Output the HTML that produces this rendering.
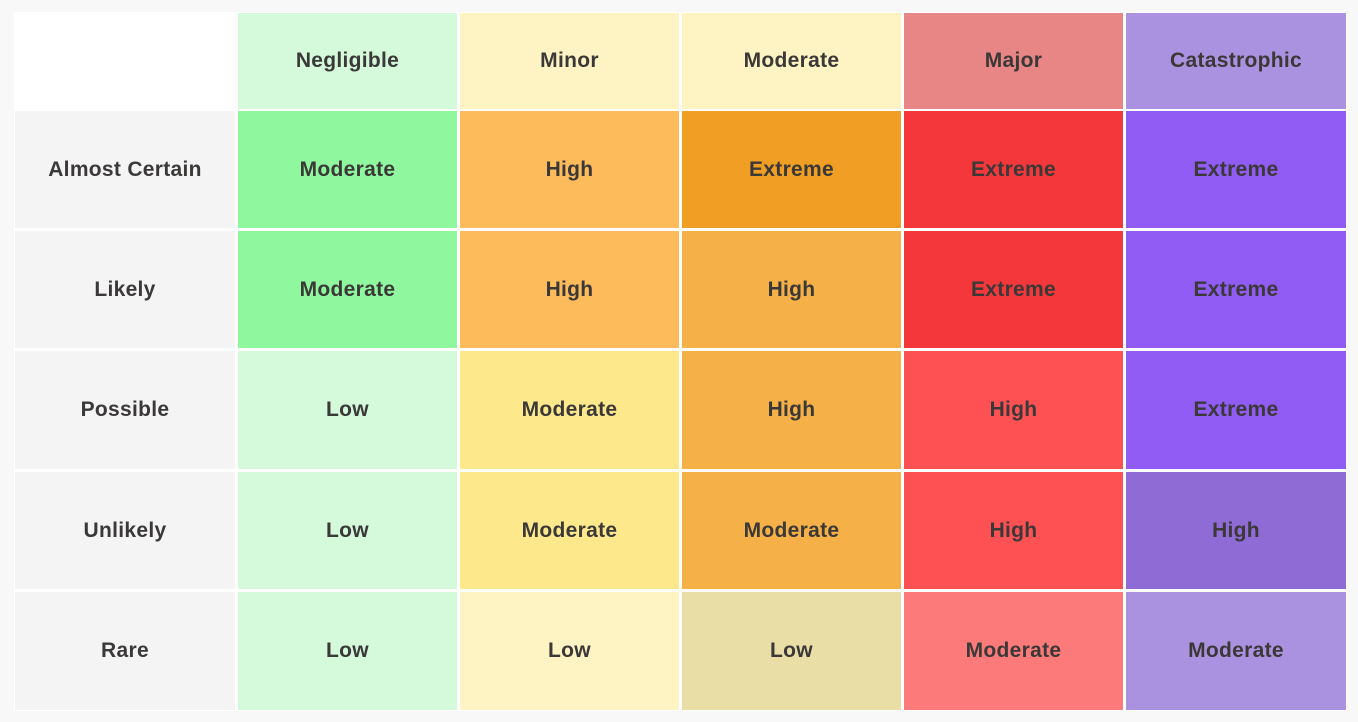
<!DOCTYPE html>
<html><head><style>
body{margin:0;width:1358px;height:722px;background:#f8f8f8;position:relative;overflow:hidden;font-family:"Liberation Sans Narrow","Liberation Sans",sans-serif;}
.c{position:absolute;display:flex;align-items:center;justify-content:center;color:#3b3838;font-size:21px;font-weight:bold;letter-spacing:0.3px;}
#bk{position:absolute;left:14px;top:12px;width:1333px;height:699px;background:#fff;}
</style></head><body>
<div id="bk"></div>
<div id="g"></div>
<script>
var xs=[15,238,460,682,904,1126],ws=[220,219,219,219,219,220];
var ys=[13,111,231,351,472,592],hs=[96,117,117,118,117,118];
var data=[
[["","#fff"],["Negligible","#d4fadb"],["Minor","#fef3c2"],["Moderate","#fef3c2"],["Major","#e88585"],["Catastrophic","#ab92e0"]],
[["Almost Certain","#f4f4f4"],["Moderate","#8ff89f"],["High","#fdbb5b"],["Extreme","#f09e24"],["Extreme","#f4373a"],["Extreme","#905cf3"]],
[["Likely","#f4f4f4"],["Moderate","#8ff89f"],["High","#fdbb5b"],["High","#f5b147"],["Extreme","#f4373a"],["Extreme","#905cf3"]],
[["Possible","#f4f4f4"],["Low","#d4fadb"],["Moderate","#fde98c"],["High","#f5b147"],["High","#fe5154"],["Extreme","#905cf3"]],
[["Unlikely","#f4f4f4"],["Low","#d4fadb"],["Moderate","#fde98c"],["Moderate","#f5b147"],["High","#fe5154"],["High","#8f6bd6"]],
[["Rare","#f4f4f4"],["Low","#d4fadb"],["Low","#fef3c2"],["Low","#e8dea6"],["Moderate","#fd7a7a"],["Moderate","#ab92e0"]]];
var h="";
for(var r=0;r<6;r++)for(var c=0;c<6;c++){var d=data[r][c];
h+='<div class="c" style="left:'+xs[c]+'px;top:'+ys[r]+'px;width:'+ws[c]+'px;height:'+hs[r]+'px;background:'+d[1]+'">'+d[0]+'</div>';}
document.getElementById("g").innerHTML=h;
</script>
</body></html>
